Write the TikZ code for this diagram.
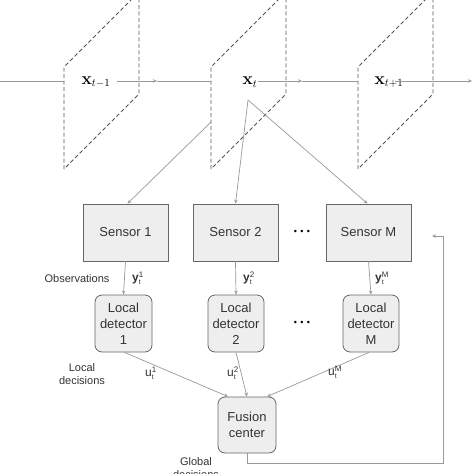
\documentclass[tikz,border=0pt]{standalone}
\usepackage[no-math]{fontspec}
\setmainfont{Liberation Sans}
\usetikzlibrary{calc,arrows.meta}
\definecolor{ln}{HTML}{999999}
\definecolor{pl}{HTML}{555555}
\definecolor{bx}{HTML}{EEEEEE}
\definecolor{bd}{HTML}{666666}
\definecolor{tx}{HTML}{333333}
\newcommand\subsup[3]{#1$_{\mbox{\fontsize{7}{7}\selectfont #2}}^{\mbox{\fontsize{8}{8}\selectfont #3}}$}
\newcommand\threedots{•\hspace{3.3pt}•\hspace{3.3pt}•}
\begin{document}
\begin{tikzpicture}[x=1pt,y=-1pt,
  plane/.style={draw=pl,line width=0.9pt,dash pattern=on 4pt off 2.5pt},
  conn/.style={draw=ln,line width=0.7pt},
  arr/.style={conn,-{Stealth[length=4pt,width=3.5pt]}},
  sensorbox/.style={draw=bd,fill=bx,line width=0.8pt,minimum width=85pt,minimum height=57pt,inner sep=0pt,text=tx,font=\fontsize{13}{16}\selectfont},
  detbox/.style={draw=bd,fill=bx,line width=0.8pt,rounded corners=7pt,minimum width=57pt,minimum height=57pt,inner sep=0pt,align=center,text=tx,font=\fontsize{13}{16}\selectfont},
  smalltxt/.style={text=tx,font=\fontsize{11}{13}\selectfont,align=center,inner sep=0pt},
  lbl/.style={text=tx,font=\fontsize{12}{14}\selectfont,inner sep=0pt},
  xlab/.style={text=black,font=\fontsize{16}{18}\selectfont,inner sep=0pt},
  dots/.style={text=black,font=\fontsize{9}{10}\selectfont,inner sep=0pt}]
\useasboundingbox (0,0) rectangle (474,474);
\clip (0,0) rectangle (474,474);
% planes
\foreach \L in {64,211,358}{
  \draw[plane] (\L,169) -- (\L,67) -- (\L+75,-8) -- (\L+75,94) -- cycle;
}
% state labels
\node[xlab] (xa) at (96,82) {$\mathbf{x}_{t-1}$};
\node[xlab] (xb) at (250,82) {$\mathbf{x}_{t}$};
\node[xlab] (xc) at (389,82) {$\mathbf{x}_{t+1}$};
\coordinate (in0) at (0,81);
\coordinate (p1) at (64,81);
\coordinate (a1) at (117,81);
\coordinate (m1) at (157,81);
\coordinate (p2) at (211,81);
\coordinate (a2) at (258,81);
\coordinate (m2) at (302,81);
\coordinate (p3) at (358,81);
\coordinate (a3) at (395,81);
\coordinate (m3) at (472,81);
\draw[conn] (in0) -- (p1);
\draw[arr] (a1) -- (m1);
\draw[conn] (m1) -- (p2);
\draw[arr] (a2) -- (m2);
\draw[conn] (m2) -- (p3);
\draw[arr] (a3) -- (m3);
% sensors
\node[sensorbox] (s1) at (125.5,232.5) {Sensor 1};
\node[sensorbox] (s2) at (235.5,232.5) {Sensor 2};
\node[sensorbox] (sM) at (368.5,232.5) {Sensor M};
\node[dots] (d1) at (302,232) {\threedots};
\coordinate (src) at (248,100);
\coordinate (src1) at (211,122);
\draw[arr] (src1) -- ($(s1.north)+(2,0)$);
\draw[arr] (src) -- (s2.north);
\draw[arr] (src) -- ($(sM.north)+(-1,0)$);
% detectors
\node[detbox] (l1) at (123.5,323.5) {Local\\detector\\1};
\node[detbox,minimum width=56pt] (l2) at (236,323.5) {Local\\detector\\2};
\node[detbox,minimum width=56pt] (lM) at (371,323.5) {Local\\detector\\M};
\node[dots] (d2) at (302,323) {\threedots};
\draw[arr] (s1.south) -- (l1.north);
\draw[arr] (s2.south) -- (l2.north);
\draw[arr] (sM.south) -- (lM.north);
\node[smalltxt] (obs) at (77,279) {Observations};
\node[lbl] (y1) at (138,278) {\subsup{\textbf{y}}{t}{1}};
\node[lbl] (y2) at (249,278) {\subsup{\textbf{y}}{t}{2}};
\node[lbl] (yM) at (382,278) {\subsup{\textbf{y}}{t}{M}};
% fusion
\node[detbox,minimum width=58pt,minimum height=56pt] (fus) at (247,425) {Fusion\\center};
\draw[arr] (l1.south) ++(1,0) -- ($(fus.north)+(-19,0)$);
\draw[arr] (l2.south) -- ($(fus.north)+(0,0)$);
\draw[arr] (lM.south) ++(-2,0) -- ($(fus.north)+(20,0)$);
\node[smalltxt] (ld) at (82,374.5) {Local\\decisions};
\node[lbl] (u1) at (151,373) {\subsup{u}{t}{1}};
\node[lbl] (u2) at (233,373) {\subsup{u}{t}{2}};
\node[lbl] (uM) at (335,372) {\subsup{u}{t}{M}};
% feedback
\coordinate (fb) at (432,236);
\coordinate (fbc) at (443,463);
\draw[arr] (fus.south) |- (fbc) |- (fb);
\node[smalltxt] (gd) at (196,468) {Global\\decisions};
\node[lbl] (ug) at (261,479) {u$_{\mbox{\fontsize{7}{7}\selectfont t}}$};
\end{tikzpicture}
\end{document}
